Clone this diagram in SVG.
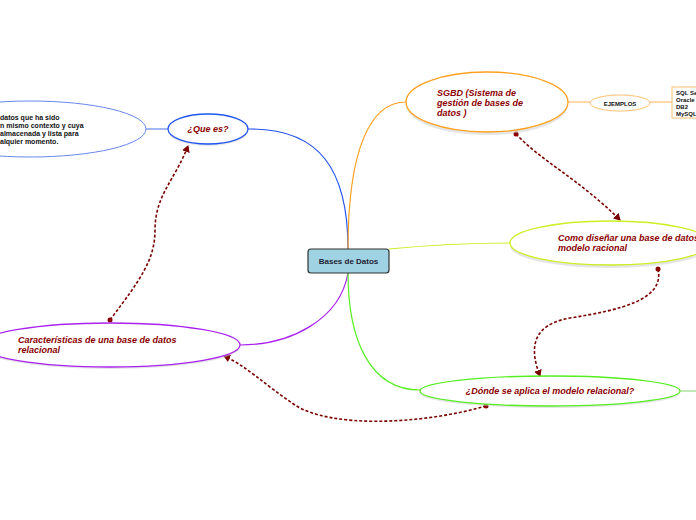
<svg xmlns="http://www.w3.org/2000/svg" width="696" height="520" viewBox="0 0 696 520">
<defs>
<marker id="ah" markerWidth="8" markerHeight="8" refX="6" refY="4" orient="auto" markerUnits="userSpaceOnUse"><path d="M0,0 L7,4 L0,8 Z" fill="#7a0000"/></marker>
<style>
.t{font-family:"Liberation Sans",Arial,sans-serif;font-size:9px;font-weight:bold;font-style:italic;fill:#8b0000}
.s{font-family:"Liberation Sans",Arial,sans-serif;font-size:7px;font-weight:bold;fill:#111}
.dash{fill:none;stroke:#7a0000;stroke-width:1.6;stroke-dasharray:3,2}
</style>
</defs>
<rect width="696" height="520" fill="#fff"/>
<g id="connectors" fill="none" stroke-width="1.2">
<path d="M348,249 C348,170 320,128 248,129" stroke="#2255ee"/>
<path d="M168,129 L146,129" stroke="#6688ee"/>
<path d="M348,249 C348,150 370,102 406,102" stroke="#ffa020"/>
<path d="M568,102 L590,102" stroke="#ffc070"/>
<path d="M650,102 L672,102" stroke="#ffc070"/>
<path d="M389,249 C430,245 470,243 510,243" stroke="#ccee22"/>
<path d="M348,273 C340,320 290,345 240,345" stroke="#aa22ee"/>
<path d="M348,273 C348,340 370,390 420,390" stroke="#55ee22"/>
<path d="M680,391 L696,391" stroke="#99dd88"/>
<path class="dash" d="M110,320 C140,280 155,260 155,230 C155,195 175,180 188,146" marker-end="url(#ah)"/>
<path class="dash" d="M516,134 C540,160 580,180 620,220" marker-end="url(#ah)"/>
<path class="dash" d="M658,269 C665,300 620,310 570,318 C530,325 530,350 540,376" marker-end="url(#ah)"/>
<path class="dash" d="M486,406 C420,425 330,428 295,405 C265,385 245,365 224,356" marker-end="url(#ah)"/>
<g fill="#8b0000"><circle cx="110" cy="320" r="2.5"/><circle cx="516" cy="134" r="2.5"/><circle cx="658" cy="269" r="2.5"/><circle cx="486" cy="406" r="2.5"/></g>
</g>
<g id="center"><rect x="308" y="249" width="81" height="24" rx="3" fill="#9fd3e3" stroke="#333" stroke-width="1.2"/><text x="348.5" y="264" text-anchor="middle" class="s" style="font-size:8px;fill:#223">Bases de Datos</text></g>
<g id="quees"><ellipse cx="208" cy="131" rx="40" ry="15" fill="#ccc" opacity="0.5"/><ellipse cx="208" cy="129" rx="40" ry="15" fill="#fff" stroke="#2255ee" stroke-width="1.3"/><text x="208" y="132" text-anchor="middle" class="t">¿Que es?</text></g>
<g id="def"><ellipse cx="30" cy="129" rx="116" ry="28" fill="#fff" stroke="#6688ee"/>
<text class="s"><tspan x="0" y="120">datos que ha sido</tspan><tspan x="0" y="128">n mismo contexto y cuya</tspan><tspan x="0" y="136">almacenada y lista para</tspan><tspan x="0" y="144">alquier momento.</tspan></text></g>
<g id="sgbd"><ellipse cx="487" cy="105" rx="81" ry="30" fill="#ccc" opacity="0.5"/><ellipse cx="487" cy="102" rx="81" ry="30" fill="#fff" stroke="#ffa020" stroke-width="1.3"/><text class="t"><tspan x="437" y="96">SGBD (Sistema de</tspan><tspan x="437" y="106">gestión de bases de</tspan><tspan x="437" y="116">datos )</tspan></text></g>
<g id="ejemplos"><ellipse cx="620" cy="103" rx="30" ry="8" fill="#fff" stroke="#ffc070"/><text x="620" y="106" text-anchor="middle" class="s" style="font-size:6px">EJEMPLOS</text></g>
<g id="lista"><rect x="672" y="87" width="30" height="31" fill="#fff" stroke="#ffc070"/><text class="s" style="font-size:6px"><tspan x="676" y="95">SQL Se</tspan><tspan x="676" y="102">Oracle</tspan><tspan x="676" y="109">DB2</tspan><tspan x="676" y="116">MySQL</tspan></text></g>
<g id="disenar"><ellipse cx="610" cy="246" rx="100" ry="22" fill="#ccc" opacity="0.5"/><ellipse cx="610" cy="243" rx="100" ry="22" fill="#fff" stroke="#ccee22" stroke-width="1.3"/><text class="t"><tspan x="558" y="241">Como diseñar una base de datos</tspan><tspan x="558" y="251">modelo racional</tspan></text></g>
<g id="caract"><ellipse cx="110" cy="347" rx="130" ry="22" fill="#ccc" opacity="0.5"/><ellipse cx="110" cy="345" rx="130" ry="22" fill="#fff" stroke="#aa22ee" stroke-width="1.3"/><text class="t"><tspan x="18" y="343">Características de una base de datos</tspan><tspan x="18" y="353">relacional</tspan></text></g>
<g id="donde"><ellipse cx="550" cy="393" rx="130" ry="15" fill="#ccc" opacity="0.5"/><ellipse cx="550" cy="391" rx="130" ry="15" fill="#fff" stroke="#55ee22" stroke-width="1.3"/><text x="550" y="394" text-anchor="middle" class="t">¿Dónde se aplica el modelo relacional?</text></g>
</svg>
